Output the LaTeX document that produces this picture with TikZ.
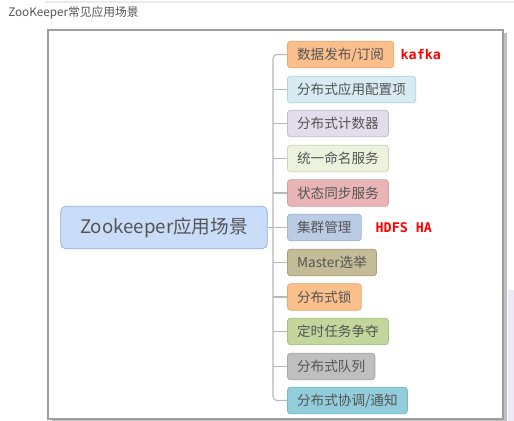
\documentclass[tikz,border=0pt]{standalone}
\usepackage{fontspec}
\setmainfont{Noto Sans CJK SC}
\newfontfamily\monob{DejaVu Sans Mono}
\definecolor{txt}{HTML}{555555}
\definecolor{trunk}{HTML}{B8B8B8}
\begin{document}
\begin{tikzpicture}[x=0.75pt,y=-0.75pt,
  leaf/.style={anchor=west,rounded corners=2.5pt,inner xsep=7.3pt,minimum height=20pt,font=\fontsize{10.2}{12}\selectfont,text=txt,line width=0.6pt},
  tag/.style={anchor=west,text=red,font=\monob\bfseries\fontsize{10}{12}\selectfont},
  conn/.style={draw=trunk,line width=0.8pt,rounded corners=3pt}]
\useasboundingbox (0,0) rectangle (514,421);
\fill[white] (0,0) rectangle (514,421);
% top faint line
\draw[draw=black!8,line width=0.8pt] (45,2) -- (514,2);
% title
\node[anchor=west,text=txt,font=\fontsize{8.8}{10}\selectfont,inner sep=0pt] (title) at (8,13) {ZooKeeper常见应用场景};
% background decoration right
\fill[color={rgb,255:red,236;green,232;blue,244}] (508,290) rectangle (514,421);
% frame shadow
\fill[black!25] (503,33) rectangle (507,421);
\fill[black!25] (52,418) rectangle (507,421);
% frame
\draw[draw=black!38,fill=white,line width=0.8pt] (48,30) rectangle (503,419);
% center node
\node[draw={rgb,255:red,150;green,178;blue,222},fill={rgb,255:red,201;green,220;blue,248},rounded corners=4pt,minimum width=155pt,minimum height=32pt,text=txt,font=\fontsize{14}{16}\selectfont,line width=0.6pt] (root) at (164,227.5) {Zookeeper应用场景};
% trunk
\coordinate (tj) at (273,227.5);
% leaves
\node[leaf,draw={rgb,255:red,232;green,168;blue,112},fill={rgb,255:red,251;green,191;blue,140}] (n1) at (287,54.5) {数据发布/订阅};
\node[leaf,draw={rgb,255:red,180;green,210;blue,222},fill={rgb,255:red,216;green,235;blue,243}] (n2) at (287,89.5) {分布式应用配置项};
\node[leaf,draw={rgb,255:red,196;green,186;blue,210},fill={rgb,255:red,227;green,220;blue,235}] (n3) at (287,123.5) {分布式计数器};
\node[leaf,draw={rgb,255:red,205;green,215;blue,185},fill={rgb,255:red,236;green,242;blue,222}] (n4) at (287,158.5) {统一命名服务};
\node[leaf,draw={rgb,255:red,215;green,160;blue,160},fill={rgb,255:red,232;green,180;blue,181}] (n5) at (287,193) {状态同步服务};
\node[leaf,draw={rgb,255:red,160;green,182;blue,210},fill={rgb,255:red,185;green,204;blue,228}] (n6) at (287,227.5) {集群管理};
\node[leaf,draw={rgb,255:red,168;green,160;blue,124},fill={rgb,255:red,196;green,188;blue,151}] (n7) at (287,262.5) {Master选举};
\node[leaf,draw={rgb,255:red,232;green,168;blue,112},fill={rgb,255:red,251;green,191;blue,140}] (n8) at (287,297) {分布式锁};
\node[leaf,draw={rgb,255:red,170;green,192;blue,130},fill={rgb,255:red,195;green,214;blue,156}] (n9) at (287,331.5) {定时任务争夺};
\node[leaf,draw={rgb,255:red,168;green,168;blue,168},fill={rgb,255:red,191;green,191;blue,191}] (n10) at (287,366.5) {分布式队列};
\node[leaf,draw={rgb,255:red,120;green,185;blue,205},fill={rgb,255:red,146;green,205;blue,220}] (n11) at (287,400.5) {分布式协调/通知};
% tags
\node[tag] (kafka) at (396,54.5) {kafka};
\node[tag] (hdfs) at (371,227.5) {HDFS HA};
% connectors
\draw[conn] (root.east) -- (n6.west);
\draw[conn] (n1.west) -| (tj) |- (n11.west);
\foreach \i in {2,3,4,5,7,8,9,10}{
  \draw[conn] (tj |- n\i.west) -- (n\i.west);
}
\end{tikzpicture}
\end{document}
